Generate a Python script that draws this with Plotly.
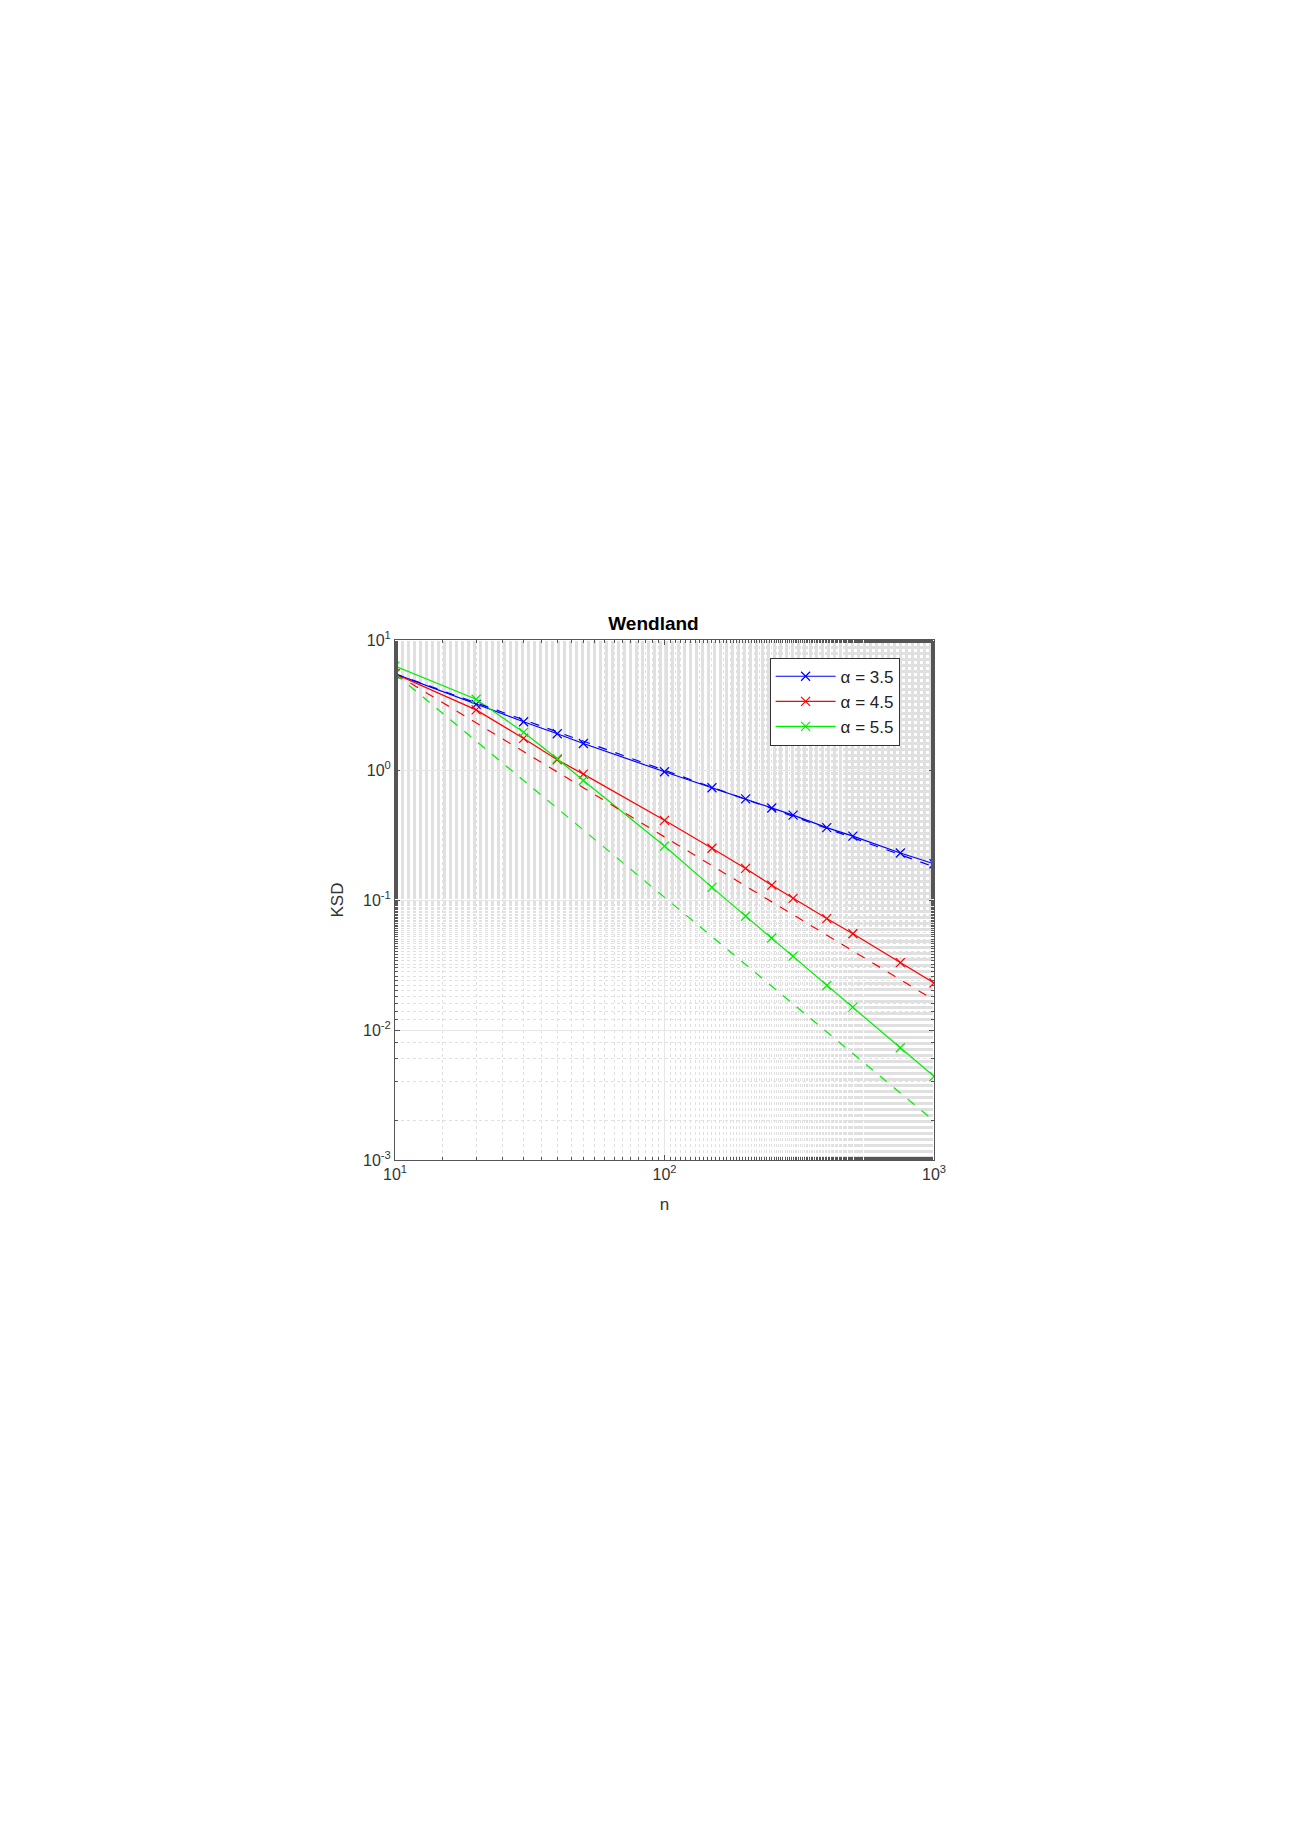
import plotly.graph_objects as go

n = [10, 20, 30, 40, 50, 100, 150, 200, 250, 300, 400, 500, 750, 1000]
ksd_35 = [5.5, 3.2, 2.35, 1.9, 1.6, 0.97, 0.73, 0.6, 0.51, 0.45, 0.36, 0.31, 0.23, 0.19]
ksd_45 = [5.5, 2.9, 1.75, 1.2, 0.93, 0.41, 0.25, 0.175, 0.13, 0.103, 0.072, 0.055, 0.033, 0.023]
ksd_55 = [6.3, 3.5, 1.95, 1.22, 0.83, 0.26, 0.125, 0.075, 0.051, 0.037, 0.022, 0.015, 0.0073, 0.0044]
ref_n = [10, 1000]
ref_35 = [5.5, 0.18]
ref_45 = [5.5, 0.017]
ref_55 = [5.5, 0.002]
x_tickvals = [10, 100, 1000]
x_ticktext = ["10<sup>1</sup>", "10<sup>2</sup>", "10<sup>3</sup>"]
y_tickvals = [0.001, 0.01, 0.1, 1, 10]
y_ticktext = ["10<sup>-3</sup>", "10<sup>-2</sup>", "10<sup>-1</sup>", "10<sup>0</sup>", "10<sup>1</sup>"]

colors = ["#0000ff", "#ff0000", "#00ee00"]
names = ["α = 3.5", "α = 4.5", "α = 5.5"]
fig = go.Figure()
for y, c, nm in zip([ksd_35, ksd_45, ksd_55], colors, names):
    fig.add_trace(go.Scatter(x=n, y=y, mode="lines+markers", name=nm,
                             line=dict(color=c, width=1.2),
                             marker=dict(symbol="x-thin", size=9, line=dict(color=c, width=1.2))))
for r, c in zip([ref_35, ref_45, ref_55], colors):
    fig.add_trace(go.Scatter(x=ref_n, y=r, mode="lines", showlegend=False,
                             line=dict(color=c, width=1.2, dash="dash")))

ax = dict(type="log", showline=True, linecolor="#555", mirror="ticks", ticks="inside",
          ticklen=5, tickcolor="#555", gridcolor="#e6e6e6", gridwidth=1,
          minor=dict(showgrid=True, gridcolor="#e0e0e0", griddash="dot", ticks="inside", ticklen=3),
          zeroline=False, tickfont=dict(size=16, color="#333"))
fig.update_xaxes(**ax, range=[1, 3], tickvals=x_tickvals, ticktext=x_ticktext,
                 title=dict(text="n", font=dict(size=17, color="#333")))
fig.update_yaxes(**ax, range=[-3, 1], tickvals=y_tickvals, ticktext=y_ticktext,
                 title=dict(text="KSD", font=dict(size=17, color="#333")))
fig.update_layout(width=1291, height=1826, margin=dict(l=387, r=365, t=632, b=674),
                  plot_bgcolor="white", paper_bgcolor="white",
                  font=dict(family="Liberation Sans, Arial"),
                  title=dict(text="<b>Wendland</b>", x=0.5, xanchor="center", y=1-615/1826, yanchor="middle",
                             font=dict(size=19, color="black")),
                  legend=dict(x=0.695, y=0.966, xanchor="left", yanchor="top", bgcolor="white",
                              bordercolor="#333", borderwidth=1, itemwidth=60,
                              font=dict(size=17, color="#222")))
fig.write_html("out.html")
